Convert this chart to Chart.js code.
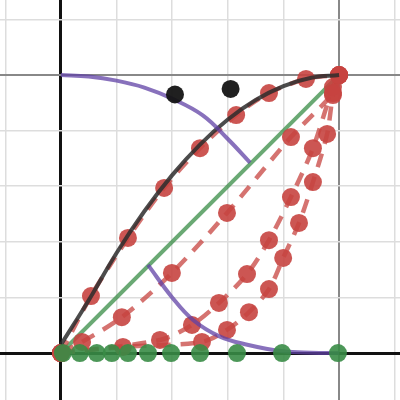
<!DOCTYPE html>
<html>
<head>
<meta charset="utf-8">
<script src="https://cdn.jsdelivr.net/npm/chart.js@4"></script>
<style>
  html, body { margin: 0; padding: 0; background: #fff; }
  #wrap { width: 400px; height: 400px; }
</style>
</head>
<body>
<div id="wrap"><canvas id="graph"></canvas></div>
<script>
// values
var gridTicks = [-0.2, 0, 0.2, 0.4, 0.6, 0.8, 1, 1.2];

var blackCurve = [[0,0.03],[0.1,0.19],[0.2,0.36],[0.3,0.51],[0.4,0.64],[0.5,0.75],[0.6,0.84],[0.7,0.91],[0.8,0.96],[0.9,0.99],[1,1]];
var blackDots = [[0.41,0.93],[0.61,0.95]];
var greenLine = [[0,0],[1,1]];
var greenDots = [[0.007,0],[0.068,0],[0.129,0],[0.183,0],[0.241,0],[0.313,0],[0.396,0],[0.5,0],[0.633,0],[0.795,0],[0.996,0]];
var purpleTop = [[0,1],[0.1,0.995],[0.2,0.98],[0.3,0.955],[0.4,0.915],[0.51,0.855],[0.6,0.77],[0.68,0.685]];
var purpleBottom = [[0.313,0.317],[0.4,0.2],[0.475,0.119],[0.57,0.06],[0.67,0.03],[0.8,0.006],[0.9,0.001],[1,0]];

var redA = [[0,0],[0.108,0.205],[0.241,0.414],[0.371,0.594],[0.5,0.737],[0.63,0.856],[0.748,0.935],[0.881,0.986],[1,1]];
var redB = [[0,0],[0.076,0.04],[0.219,0.129],[0.399,0.288],[0.597,0.504],[0.827,0.777],[0.978,0.935],[1,1]];
var redC = [[0,0],[0.356,0.047],[0.471,0.101],[0.568,0.18],[0.669,0.284],[0.748,0.406],[0.827,0.561],[0.906,0.737],[0.978,0.957],[1,1]];
var redD = [[0,0],[0.223,0.022],[0.507,0.04],[0.597,0.083],[0.676,0.147],[0.748,0.23],[0.799,0.342],[0.856,0.468],[0.906,0.615],[0.957,0.788],[0.978,0.928],[1,1]];

function pts(arr) {
  return arr.map(function(p) { return {x: p[0], y: p[1]}; });
}

var red = 'rgba(199,68,64,0.75)';
var redDot = 'rgba(199,68,64,0.9)';

function redSet(arr) {
  return {
    data: pts(arr), showLine: true, borderColor: red, borderWidth: 4.5,
    borderDash: [14, 10], tension: 0.3, pointRadius: 9, pointHoverRadius: 9,
    pointBackgroundColor: redDot, pointBorderWidth: 0
  };
}

function lineSet(arr, color, tension) {
  return {
    data: pts(arr), showLine: true, borderColor: color, borderWidth: 4,
    tension: tension, pointRadius: 0, pointHoverRadius: 0
  };
}

function dotSet(arr, color) {
  return {
    data: pts(arr), showLine: false, pointRadius: 9, pointHoverRadius: 9,
    pointBackgroundColor: color, pointBorderWidth: 0
  };
}

function gridColor(ctx) {
  var v = ctx.tick && ctx.tick.value;
  if (v === 0) return '#111';
  if (v === 1) return '#888';
  return '#ddd';
}
function gridWidth(ctx) {
  var v = ctx.tick && ctx.tick.value;
  if (v === 0) return 3;
  if (v === 1) return 2;
  return 1.5;
}

function setTicks(scale) {
  scale.ticks = gridTicks.map(function(v) { return {value: v}; });
}

var axisOpts = {
  type: 'linear',
  afterBuildTicks: setTicks,
  ticks: { display: false },
  border: { display: false },
  grid: { color: gridColor, lineWidth: gridWidth, drawTicks: false }
};

// first dataset is painted on top
new Chart(document.getElementById('graph'), {
  type: 'scatter',
  data: {
    datasets: [
      dotSet(greenDots, 'rgba(56,140,70,0.9)'),
      dotSet(blackDots, 'rgba(20,20,20,0.95)'),
      lineSet(purpleTop, 'rgba(96,66,166,0.75)', 0.4),
      lineSet(purpleBottom, 'rgba(96,66,166,0.75)', 0.4),
      lineSet(blackCurve, 'rgba(45,45,45,0.85)', 0.4),
      redSet(redA), redSet(redB), redSet(redC), redSet(redD),
      lineSet(greenLine, 'rgba(56,140,70,0.75)', 0)
    ]
  },
  options: {
    responsive: true,
    maintainAspectRatio: false,
    animation: false,
    layout: { padding: 0, autoPadding: false },
    plugins: { legend: { display: false }, tooltip: { enabled: false } },
    scales: {
      x: Object.assign({}, axisOpts, { min: -0.219, max: 1.219 }),
      y: Object.assign({}, axisOpts, { min: -0.169, max: 1.27 })
    }
  }
});
</script>
</body>
</html>
